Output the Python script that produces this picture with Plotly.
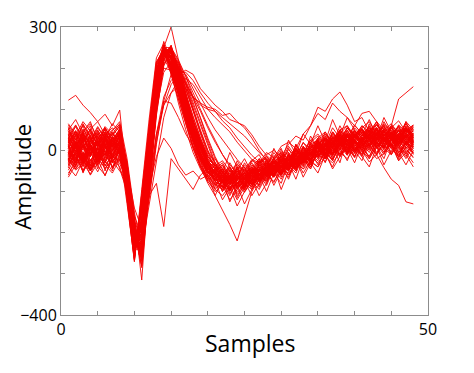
import plotly.graph_objects as go

samples = [1, 2, 3, 4, 5, 6, 7, 8, 9, 10, 11, 12, 13, 14, 15, 16, 17, 18, 19, 20, 21, 22, 23, 24,
           25, 26, 27, 28, 29, 30, 31, 32, 33, 34, 35, 36, 37, 38, 39, 40, 41, 42, 43, 44, 45, 46, 47, 48]

# each waveform: samples 1-8 baseline | 9-20 spike | 21-48 recovery
wave_01 = [10,-22,31,14,-8,36,-15,28, -110,-260,-120,55,205,250,195,135,75,20,-25,-55, -45,-92,-60,-88,-40,-75,-30, -60,-18,-52,-5,-35,10,-25, 22,-10,30,45,5,35,52, 10,40,28,-5,35,50,22]
wave_02 = [-35,-8,-52,6,-28,18,-44,12, -40,-195,-265,-60,115,235,250,185,120,55,5,-35, -85,-55,-100,-62,-90,-48,-70, -30,-65,-20,-48,5,-30,-15, 20,-5,-25,15,40,2,28, 45,15,-10,30,5,40,10]
wave_03 = [48,25,60,12,38,55,22,50, -75,-235,-200,-10,160,245,230,160,100,40,-10,-45, -40,-78,-95,-55,-40,-82,-35, -50,-20,-5,-42,-10,8,-30, 15,30,-8,25,48,20,5, 38,55,25,10,42,20,35]
wave_04 = [-55,-30,-12,-48,-20,-62,-15,-5, -30,-175,-260,-55,125,230,255,190,125,60,10,-30, -75,-95,-60,-110,-85,-50,-72, -65,-35,-52,-15,-40,-28,5, -20,10,-12,20,-8,35,15, -5,28,45,10,-15,20,5]
wave_05 = [5,40,18,-15,30,50,8,35, -95,-250,-140,35,190,255,205,140,80,25,-20,-50, -50,-35,-70,-45,-88,-60,-30, -25,-48,-8,-35,0,-22,20, 35,12,45,25,55,30,60, 40,70,35,55,25,48,30]
wave_06 = [22,-5,-30,12,-18,25,-2,40, -85,-245,-185,5,170,255,220,155,95,35,-15,-50, -70,-88,-50,-80,-95,-62,-75, -40,-58,-20,-45,-12,-30,-2, -15,18,-5,25,40,10,30, 5,35,15,-10,28,42,20]
wave_07 = [62,35,70,48,25,58,40,65, -40,-195,-265,-60,115,235,250,185,120,55,5,-35, -35,-60,-45,-72,-30,-55,-25, -40,-5,-28,10,-15,20,-8, 30,45,15,50,60,35,55, 70,40,58,30,62,45,55]
wave_08 = [-18,-45,-8,-38,5,-25,-50,10, -120,-270,-105,60,215,245,185,120,60,5,-40,-70, -88,-65,-105,-80,-60,-95,-72, -55,-78,-40,-60,-25,-45,-30, -10,-28,5,-15,15,-5,25, 10,-12,20,35,0,15,-8]
wave_09 = [38,12,45,-10,28,50,15,42, -50,-200,-280,-80,100,220,250,195,135,70,20,-25, -45,-30,-62,-48,-20,-55,-38, -15,-42,0,-25,12,-8,25, 10,38,22,50,30,62,40, 25,55,35,60,45,30,58]
wave_10 = [-8,28,-20,15,-35,5,20,-12, -85,-245,-185,5,170,255,220,155,95,35,-15,-50, -55,-80,-65,-92,-70,-48,-60, -70,-35,-55,-20,-40,-5,-25, 8,-12,20,30,5,-8,25, 40,18,-5,30,12,-15,20]
wave_11 = [122,134,110,92,70,88,60,98, -75,-235,-200,-10,160,245,230,160,100,40,-10,-45, -60,-45,-75,-55,-68,-42,-50, -30,-50,-15,-35,5,-20,10, 25,0,35,18,45,28,50, 30,48,22,40,58,25,38]
wave_12 = [15,-12,28,-5,18,40,-20,10, -40,-160,-315,-70,120,250,300,220,140,70,15,-30, -55,-75,-62,-85,-60,-70,-45, -55,-38,-25,-45,-12,-30,0, 12,-8,22,35,10,40,25, 45,28,10,38,20,52,30]
wave_13 = [20,-2,32,8,-15,24,6,18, -60,-190,-230,-110,20,110,160,185,195,185,150,130, 110,95,75,68,60,38,10, -12,-28,-15,-35,-18,-5,-22, 8,-5,22,35,12,38,20, 42,25,48,30,15,38,20]
wave_14 = [-22,12,-32,2,-18,22,-8,8, -80,-220,-240,-130,-20,80,140,170,175,160,130,100, 80,62,45,20,0,-22,-38, -30,-48,-25,-38,-10,-22,2, 15,5,28,10,32,48,20, 35,52,25,42,30,58,40]
wave_15 = [5,-28,12,-15,22,-5,32,10, -70,-210,-230,-80,40,110,140,155,150,130,110,100, 95,72,55,30,8,-12,-28, -15,-32,-5,-22,5,-12,15, 25,0,32,15,42,25,10, 35,52,20,45,30,15,25]
wave_16 = [10,-18,22,-25,5,-12,18,-8, -45,-140,-190,-110,-80,-185,-20,-45,-70,-95,-60,-45, -55,-78,-60,-45,-62,-35,-52, -25,-42,-15,-32,0,-22,10, -5,20,5,32,15,0,25, 42,10,32,20,48,25,5]
wave_17 = [28,5,42,15,-8,32,10,48, -30,-160,-205,-90,-15,30,5,-35,-60,-50,-70,-60, -75,-88,-65,-82,-60,-72,-45, -58,-35,-48,-25,-32,-10,-22, 5,-8,20,10,32,15,38, 20,45,25,42,30,52,35]
wave_18 = [-12,18,-22,10,-28,5,-15,22, -95,-235,-175,-10,160,235,215,145,80,20,-40,-80, -110,-145,-180,-220,-160,-100,-70, -55,-62,-40,-48,-25,-32,-10, -15,5,-8,15,28,0,22, 38,10,28,42,15,32,8]
wave_19 = [25,-2,38,-12,20,8,42,25, -65,-225,-215,-20,150,240,230,165,105,45,-5,-40, -60,-50,-78,-62,-72,-45,-58, -35,-52,-30,-42,-15,-28,0, -12,15,5,-8,10,-18,0, -28,-10,-42,-70,-85,-125,-130]
wave_20 = [-28,8,-38,2,-22,12,-15,18, -80,-240,-180,20,180,250,210,150,90,30,-20,-55, -72,-65,-82,-70,-55,-68,-40, -52,-30,-38,-12,-22,5,-8, 20,8,32,15,42,25,52, 35,62,45,60,125,140,155]
wave_21 = [30,58,22,45,12,35,25,52, -60,-215,-235,-40,140,245,240,175,110,50,0,-35, -50,-40,-58,-35,-48,-22,-30, -5,-18,10,20,5,40,60, 105,95,125,142,110,70,80, 45,55,30,40,20,35,25]
wave_22 = [-38,-10,-48,-22,-52,-15,-30,2, -70,-225,-225,-30,155,250,225,160,95,35,-15,-45, -55,-45,-62,-40,-50,-25,-35, -10,0,-15,15,35,25,60, 90,75,115,95,80,60,90, 95,70,50,65,40,55,35]
wave_23 = [5,38,0,42,15,-12,25,40, -100,-250,-160,25,185,255,210,140,80,25,-25,-60, -82,-95,-75,-100,-82,-58,-72, -55,-42,-50,-28,-40,-18,-5, -15,2,15,-10,5,22,0, 25,8,30,15,-5,20,8]
wave_24 = [-12,-38,-5,-48,-20,-42,-25,-5, -45,-185,-260,-85,95,215,245,200,135,70,25,-15, -35,-55,-68,-50,-72,-88,-60, -65,-45,-58,-35,-42,-18,-25, -5,12,-10,18,0,22,-5, 10,28,5,15,-12,5,-18]
wave_25 = [48,15,52,25,58,30,50,62, -90,-250,-125,55,210,250,195,130,70,10,-35,-65, -85,-70,-98,-80,-65,-75,-50, -62,-40,-25,-38,-10,-15,8, 15,0,28,38,15,48,30, 52,35,20,42,58,30,48]
wave_26 = [-42,-5,-30,-58,-15,-45,-20,12, -65,-225,-215,-25,150,240,240,170,105,45,-5,-40, -65,-82,-70,-58,-78,-55,-62, -35,-48,-30,-12,-25,-5,-12, 12,28,5,32,20,42,15, 35,20,8,25,48,30,15]
wave_27 = [15,48,10,32,-5,28,0,22, -35,-170,-255,-65,120,230,250,185,120,60,5,-35, -60,-78,-92,-80,-70,-88,-60, -50,-58,-35,-48,-25,-8,-20, 2,-10,12,28,5,32,52, 25,42,35,58,30,18,42]
wave_28 = [-22,20,-32,15,-10,32,5,38, -120,-270,-105,60,215,245,185,120,60,5,-40,-70, -92,-75,-60,-88,-70,-55,-68, -40,-52,-20,-35,-5,-15,5, 22,10,38,15,25,48,30, 15,38,52,25,40,30,52]
wave_29 = [0,-25,15,-38,5,-15,22,0, -80,-230,-175,-5,140,200,195,140,85,30,-15,-45, -60,-55,-72,-50,-65,-45,-52, -30,-42,-20,-25,0,-10,15, 5,25,15,38,20,0,32, 15,42,25,10,35,20,-5]
wave_30 = [52,25,62,35,20,45,15,42, -50,-200,-280,-80,100,220,250,195,135,70,20,-25, -55,-72,-60,-78,-88,-65,-55, -45,-62,-35,-40,-20,-30,-5, -15,10,-5,22,38,10,25, 48,20,5,32,15,42,25]
wave_31 = [-15,10,-28,22,-5,15,-22,5, -70,-225,-215,-35,140,235,240,200,165,130,95,55, 20,-10,-35,-55,-72,-60,-78, -50,-58,-35,-45,-20,-25,-5, -15,10,0,22,5,25,42, 15,32,10,35,20,5,25]
wave_32 = [32,5,38,15,42,10,25,5, -55,-200,-240,-120,15,120,185,200,185,150,115,80, 50,25,0,-22,-42,-55,-45, -62,-40,-52,-30,-35,-15,-20, 0,-5,15,5,28,10,32, 15,38,22,42,30,15,32]
wave_33 = [-32,-5,-22,-48,-10,-35,-15,-25, -60,-170,-220,-110,30,120,115,80,40,10,-20,-50, -65,-78,-60,-72,-55,-65,-45, -58,-40,-30,-38,-15,-25,-5, 10,0,15,-5,22,5,25, 10,32,0,15,-10,20,5]
wave_34 = [20,48,5,35,-12,22,40,15, -95,-250,-140,35,190,255,205,140,80,25,-20,-50, -75,-65,-82,-60,-75,-50,-40, -55,-30,-42,-15,-25,0,-10, 22,5,32,10,38,20,48, 25,42,58,35,20,42,62]
wave_35 = [-48,-15,-52,-25,-5,-38,-10,-32, -75,-235,-200,-10,160,245,230,160,100,40,-10,-45, -65,-60,-82,-92,-75,-60,-72, -50,-58,-40,-32,-42,-20,-5, -15,5,-10,15,0,22,5, 28,10,32,15,38,5,22]
wave_36 = [5,-22,32,0,48,20,38,58, -30,-175,-260,-55,125,230,255,190,125,60,10,-30, -55,-65,-78,-65,-82,-55,-60, -45,-30,-40,-20,-32,-10,5, -5,15,32,10,38,25,52, 30,48,22,35,52,25,42]
wave_37 = [-10,15,-22,28,0,38,10,32, -95,-260,-130,45,195,250,200,135,75,20,-30,-65, -80,-72,-60,-78,-65,-82,-55, -62,-40,-50,-25,-35,-10,-22, 0,12,-5,22,15,35,10, 30,48,22,32,15,38,10]
wave_38 = [35,62,25,52,10,42,20,45, -50,-195,-270,-80,100,225,250,195,130,70,20,-25, -45,-62,-75,-70,-55,-68,-45, -50,-25,-38,-15,-22,5,-10, 15,32,10,38,20,48,35, 58,30,52,40,25,48,62]
wave_39 = [-5,22,-15,10,-28,5,25,0, -70,-215,-235,-95,40,130,170,190,190,170,140,115, 95,80,65,50,35,15,-5, -22,-30,-45,-35,-20,-30,-5, -15,10,0,25,15,35,20, 10,30,45,25,40,20,30]
wave_40 = [-25,5,-10,-42,-5,-30,0,22, -90,-235,-180,5,165,235,210,150,85,30,-20,-55, -70,-88,-95,-80,-102,-75,-65, -72,-50,-55,-35,-45,-25,-30, -10,-20,2,-10,12,-5,15, 0,20,5,-10,15,0,-15]
wave_41 = [30,12,-18,25,45,8,-10,35, -60,-215,-190,20,185,265,220,165,110,60,15,-30, -55,-85,-70,-105,-80,-95,-62, -75,-45,-60,-30,-48,-22,-35, -8,15,-20,5,25,-5,18, 32,5,25,45,12,-8,20]
wave_42 = [-40,-62,-25,-50,-8,-35,-55,-20, -70,-240,-240,-40,145,230,245,200,150,95,40,-10, -40,-62,-48,-75,-55,-80,-58, -42,-65,-30,-50,-18,-38,-10, -25,5,-12,18,2,-15,12, 28,-5,15,35,8,-20,10]
wave_43 = [58,28,42,65,30,12,48,70, -20,-150,-245,-90,90,205,240,210,160,100,45,-5, -30,-55,-40,-70,-48,-62,-35, -55,-25,-42,-8,-30,-15,12, -5,30,15,42,22,55,35, 50,28,62,40,20,55,38]
wave_44 = [-5,-30,15,-42,-15,10,-28,0, -130,-265,-95,75,225,260,190,115,50,-5,-45,-75, -95,-110,-85,-120,-90,-75,-95, -60,-75,-48,-55,-30,-45,-15, -30,-5,-22,10,-12,20,0, 15,-10,22,5,30,8,-5]
wave_45 = [18,45,30,-5,20,52,35,8, -80,-245,-200,-15,150,230,225,175,120,70,25,-20, -38,-25,-50,-32,-60,-40,-20, -35,-12,-28,2,-15,18,5, 30,12,40,25,55,38,20, 48,62,35,55,72,45,60]
wave_46 = [-20,-48,-30,-5,-38,-60,-22,-40, -95,-225,-150,15,175,225,190,140,85,35,-10,-40, -55,-68,-50,-62,-45,-72,-48, -60,-35,-48,-22,-40,-12,-28, -40,-15,-30,-5,-20,8,-12, 5,-20,-8,15,-25,-5,-30]
wave_47 = [42,18,-8,30,12,55,28,48, -35,-190,-285,-100,85,210,240,205,150,95,45,0, -30,-52,-68,-45,-72,-50,-60, -38,-55,-28,-42,-20,-35,-8, 5,-12,20,2,35,15,45, 25,50,15,38,55,30,48]
wave_48 = [-15,8,40,15,-22,5,32,-8, -105,-255,-135,40,200,245,215,160,100,45,-10,-50, -68,-90,-78,-60,-85,-70,-52, -45,-30,-55,-35,-12,-28,5, 20,-8,8,30,12,40,18, 2,25,40,18,35,12,28]
wave_49 = [25,-15,5,38,-30,-8,18,-25, -75,-230,-225,-35,150,250,250,180,110,50,-5,-50, -75,-60,-90,-72,-55,-82,-65, -50,-38,-58,-30,-20,-40,-15, 8,-20,15,0,28,10,-8, 20,40,8,28,-5,15,35]
wave_50 = [65,40,20,52,70,38,55,30, -85,-235,-165,30,190,240,200,145,90,35,-15,-40, -50,-72,-42,-60,-35,-55,-28, -20,-45,-15,-5,-30,10,-12, 25,40,15,48,30,60,42, 55,35,65,48,30,52,40]
wave_51 = [-60,-20,10,-35,25,-50,5,-15, -70,-230,-220,-20,160,250,235,170,105,45,-15,-60, -110,-70,-125,-85,-130,-95,-60, -100,-55,-80,-30,-70,-20,-45, 10,-30,25,-15,40,0,-25, 20,55,5,40,-20,25,-10]
wave_52 = [55,10,45,70,20,-10,35,60, -60,-220,-230,-30,150,240,245,180,115,55,5,-30, -20,-55,-5,-40,-70,-25,-10, -45,5,-30,25,-10,40,15, 60,20,75,35,80,50,15, 65,30,80,45,20,70,50]
wave_53 = [-30,20,-55,-10,35,-25,15,-45, -100,-255,-150,30,195,250,205,150,100,55,10,-30, -75,-120,-90,-135,-100,-70,-110, -80,-40,-95,-50,-20,-65,-30, -55,-10,-40,5,-25,20,-15, -40,10,-20,30,-5,-35,0]
wave_54 = [15,-40,30,60,5,40,-20,25, -55,-210,-250,-50,135,240,250,190,135,80,30,-15, -40,-75,-30,-60,-95,-50,-20, -65,-25,5,-40,15,-20,35, 5,45,15,60,25,-5,40, 75,35,10,55,25,60,20]
wave_55 = [-10,35,-30,5,-45,20,-5,40, -90,-240,-170,15,180,245,225,165,120,70,20,-20, -60,-100,-65,-115,-80,-45,-90, -55,-15,-60,-25,-50,0,-35, 20,-20,10,-30,35,5,-15, 30,-10,45,15,-25,10,40]
wave_56 = [20,-5,25,-30,10,35,0,30, -65,-215,-220,-60,110,210,230,215,180,140,100,60, 25,-10,-40,-70,-55,-85,-50, -70,-30,-45,-10,-35,5,-20, 25,-5,30,10,50,20,0, 40,15,55,25,5,35,15]
wave_57 = [-20,10,-40,15,-15,30,-30,0, -75,-225,-210,-50,100,190,215,190,160,130,115,105, 100,85,90,70,55,30,0, -25,-50,-30,-60,-35,-15,-40, -5,20,-20,15,35,0,25, 50,20,40,5,30,55,20]
wave_58 = [40,0,-25,20,50,15,-10,20, -85,-245,-190,-5,170,255,220,160,100,40,-25,-75, -100,-85,-120,-95,-75,-110,-80, -45,-85,-50,-65,-20,-55,-25, -40,5,-25,20,-10,35,10, -15,25,50,10,35,-5,15]
wave_59 = [-65,-35,-15,-50,-25,-5,-40,-20, -60,-215,-250,-45,140,245,245,180,110,50,0,-40, -70,-50,-85,-40,-65,-90,-55, -75,-35,-15,-50,-5,-30,20, -10,35,5,50,20,-15,30, 55,25,70,40,15,50,30]
wave_60 = [10,45,-15,25,0,-30,20,10, -110,-265,-130,50,205,255,200,135,70,10,-35,-70, -60,-100,-75,-40,-90,-55,-75, -20,-55,-35,-70,-25,5,-30, 25,-10,45,15,-5,40,55, 10,45,20,60,35,70,25]
wave_61 = [50,75,40,20,55,30,65,45, -45,-190,-255,-70,110,225,255,195,125,60,10,-35, -55,-35,-70,-25,-55,-40,-75, -30,-60,-10,-35,15,-20,-45, 0,25,-10,40,60,25,5, 35,15,45,25,60,40,15]
wave_62 = [-35,0,-20,-60,-30,10,-45,-15, -95,-250,-165,20,185,250,210,150,90,35,-15,-50, -95,-75,-110,-70,-50,-85,-45, -25,-60,-40,-10,-45,-20,0, -35,-5,-45,-15,5,-30,15, -20,10,-35,0,20,-10,-40]
wave_63 = [30,-10,50,5,-25,25,45,15, -80,-240,-200,0,165,245,225,165,110,60,15,-25, -45,-65,-40,-80,-55,-30,-60, -85,-45,-70,-35,-55,-15,-40, -5,30,-15,20,0,45,20, 5,40,60,30,50,20,35]
wave_64 = [0,-35,20,-15,40,-5,-40,-10, -70,-225,-225,-35,150,240,235,170,105,45,-10,-50, -70,-45,-95,-65,-85,-45,-70, -40,-25,-65,-20,-50,-10,-30, 15,-15,5,30,-10,25,5, -15,20,-5,25,50,15,-5]
wave_65 = [25,60,35,-5,15,45,10,55, -40,-185,-265,-70,115,230,250,200,140,80,30,-15, -35,-60,-80,-50,-70,-45,-25, -55,-20,-40,5,-30,-5,25, 40,15,55,30,-5,35,60, 45,70,30,55,35,65,45]
wave_66 = [12,-30,40,-8,22,-20,30,5, -80,-235,-210,-20,150,235,245,210,165,115,65,15, -30,-65,-90,-70,-100,-75,-55, -80,-40,-60,-20,-45,-5,-30, 10,-20,25,5,40,15,-10, 30,50,20,45,10,35,55]
wave_67 = [-25,15,-5,-45,10,-30,25,-10, -60,-220,-240,-60,120,225,250,215,170,125,80,30, -15,-50,-75,-60,-95,-70,-85, -50,-65,-30,-50,-10,-35,5, -20,15,-5,30,10,-15,20, 40,5,30,-10,25,45,15]
wave_68 = [35,5,20,50,-15,30,10,45, -90,-245,-180,10,175,250,230,195,150,100,50,-5, -50,-80,-60,-95,-70,-55,-85, -35,-60,-25,-45,0,-20,15, -10,30,10,45,20,0,35, 60,25,50,15,40,65,30]
wave_69 = [-5,-45,-20,15,-35,0,-25,-50, -70,-230,-220,-30,145,235,240,205,160,110,60,10, -35,-70,-55,-90,-65,-40,-75, -45,-20,-55,-30,5,-25,-5, 20,-15,10,35,-5,25,0, -20,15,35,5,-15,20,0]
wave_70 = [45,20,65,30,10,55,25,40, -45,-200,-260,-75,105,220,250,220,180,130,75,25, -20,-45,-65,-50,-80,-60,-40, -65,-30,-50,-15,-40,10,-15, 30,0,45,20,55,35,10, 40,65,30,50,25,55,35]

waveforms = [wave_01, wave_02, wave_03, wave_04, wave_05, wave_06, wave_07, wave_08, wave_09, wave_10,
             wave_11, wave_12, wave_13, wave_14, wave_15, wave_16, wave_17, wave_18, wave_19, wave_20,
             wave_21, wave_22, wave_23, wave_24, wave_25, wave_26, wave_27, wave_28, wave_29, wave_30,
             wave_31, wave_32, wave_33, wave_34, wave_35, wave_36, wave_37, wave_38, wave_39, wave_40,
             wave_41, wave_42, wave_43, wave_44, wave_45, wave_46, wave_47, wave_48, wave_49, wave_50,
             wave_51, wave_52, wave_53, wave_54, wave_55, wave_56, wave_57, wave_58, wave_59, wave_60,
             wave_61, wave_62, wave_63, wave_64, wave_65, wave_66, wave_67, wave_68, wave_69, wave_70]

x_tick_vals = [0, 5, 10, 15, 20, 25, 30, 35, 40, 45, 50]
x_tick_text = ["0", "", "", "", "", "", "", "", "", "", "50"]
y_tick_vals = [-400, -300, -200, -100, 0, 100, 200, 300]
y_tick_text = ["\u2212400", "", "", "", "0", "", "", "300"]

fig = go.Figure()
for i, w in enumerate(waveforms):
    assert len(w) == len(samples), (i + 1, len(w))
    fig.add_trace(go.Scatter(x=samples, y=w, mode="lines",
                             line=dict(color="rgb(245,0,0)", width=0.9),
                             showlegend=False, hoverinfo="skip"))

axis_common = dict(showgrid=False, zeroline=False, showline=True, linecolor="#8c8c8c",
                   linewidth=1, mirror="ticks", ticks="inside", ticklen=4,
                   tickcolor="#8c8c8c", automargin=False,
                   tickfont=dict(family="Open Sans", size=16, color="black"))

# the page body adds an 8px offset, so the figure is sized to fit inside the window
fig.update_layout(
    width=466, height=365,
    margin=dict(l=53, r=46, t=19, b=58),
    paper_bgcolor="white", plot_bgcolor="white",
    xaxis=dict(range=[0, 50], tickvals=x_tick_vals, ticktext=x_tick_text, **axis_common),
    yaxis=dict(range=[-400, 300], tickvals=y_tick_vals, ticktext=y_tick_text, **axis_common),
    annotations=[
        dict(text="Samples", xref="paper", yref="paper", x=0.515, y=-0.097,
             xanchor="center", yanchor="middle", showarrow=False,
             font=dict(family="Open Sans", size=23, color="black")),
        dict(text="Amplitude", xref="paper", yref="paper", x=-0.106, y=0.48,
             xanchor="center", yanchor="middle", showarrow=False, textangle=-90,
             font=dict(family="Open Sans", size=22, color="black")),
    ],
)

fig.write_html("out.html")
